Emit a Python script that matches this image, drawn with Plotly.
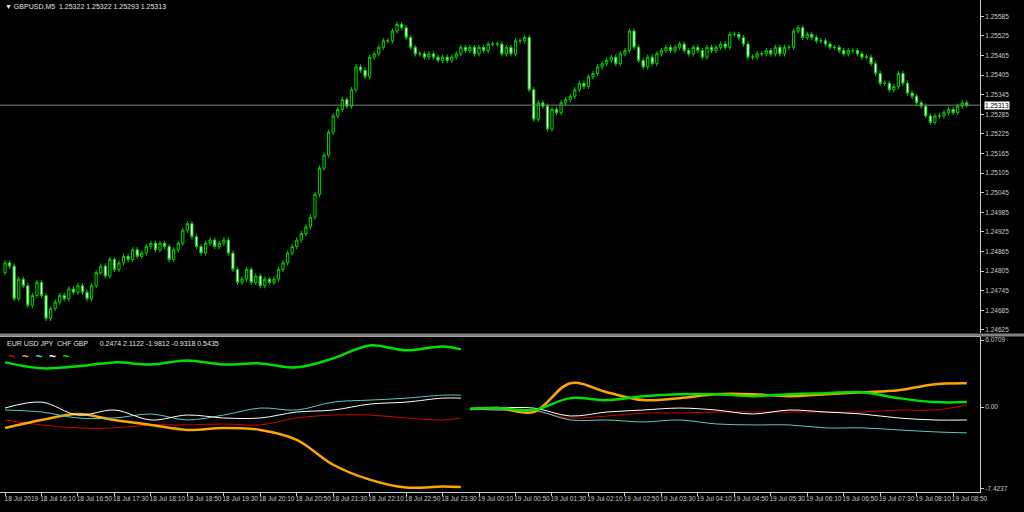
import plotly.graph_objects as go

# GBPUSD M5 closes, 18 Jul 15:30 .. 19 Jul 09:05 (one per bar)
closes = [
    1.2483, 1.2482, 1.2472, 1.2478, 1.2476, 1.2470, 1.2473, 1.2477,
    1.2473, 1.2466, 1.2469, 1.2471, 1.2473, 1.2472, 1.2475, 1.2474,
    1.2476, 1.2474, 1.2472, 1.2476, 1.2480, 1.2482, 1.2479, 1.2484,
    1.2481, 1.2483, 1.2485, 1.2484, 1.2487, 1.2485, 1.2486, 1.2488,
    1.2489, 1.2487, 1.2489, 1.2488, 1.2484, 1.2487, 1.2489, 1.2493,
    1.2495, 1.2491, 1.2488, 1.2486, 1.2489, 1.2490, 1.2488, 1.2489,
    1.2490, 1.2486, 1.2481, 1.2477, 1.2478, 1.2481, 1.2477, 1.2479,
    1.2476, 1.2478, 1.2477, 1.2478, 1.2481, 1.2483, 1.2486, 1.2488,
    1.2490, 1.2492, 1.2494, 1.2497, 1.2504, 1.2512, 1.2516, 1.2523,
    1.2528, 1.2530, 1.2533, 1.2531, 1.2536, 1.2543, 1.2542, 1.2540,
    1.2546, 1.2547, 1.2549, 1.2551, 1.2551, 1.2554, 1.2556, 1.2555,
    1.2552, 1.2549, 1.2547, 1.2547, 1.2546, 1.2547, 1.2546, 1.2545,
    1.2546, 1.2545, 1.2546, 1.2547, 1.2549, 1.2548, 1.2549, 1.2547,
    1.2549, 1.2548, 1.2550, 1.2550, 1.2550, 1.2547, 1.2549, 1.2547,
    1.2551, 1.2551, 1.2552, 1.2536, 1.2527, 1.2532, 1.2531, 1.2524,
    1.2530, 1.2529, 1.2532, 1.2533, 1.2534, 1.2536, 1.2538, 1.2537,
    1.2540, 1.2541, 1.2543, 1.2544, 1.2545, 1.2546, 1.2544, 1.2547,
    1.2548, 1.2554, 1.2549, 1.2545, 1.2543, 1.2546, 1.2544, 1.2547,
    1.2548, 1.2549, 1.2548, 1.2549, 1.2550, 1.2548, 1.2547, 1.2549,
    1.2548, 1.2546, 1.2549, 1.2548, 1.2549, 1.2550, 1.2549, 1.2553,
    1.2553, 1.2552, 1.2550, 1.2546, 1.2546, 1.2547, 1.2547, 1.2548,
    1.2547, 1.2549, 1.2547, 1.2549, 1.2549, 1.2554, 1.2555, 1.2552,
    1.2553, 1.2552, 1.2551, 1.2551, 1.2550, 1.2549, 1.2549, 1.2548,
    1.2547, 1.2548, 1.2548, 1.2547, 1.2546, 1.2546, 1.2544, 1.2541,
    1.2538, 1.2538, 1.2536, 1.2537, 1.2541, 1.2538, 1.2535, 1.2534,
    1.2532, 1.2531, 1.2528, 1.2526, 1.2528, 1.2528, 1.2529, 1.2530,
    1.2529, 1.2531, 1.2532, 1.25313,
]
first_open = 1.2480
wick = 0.00008

# currency strength indicator, sampled at these bar indices (None = gap)
ind_bars = [0, 8, 16, 24, 32, 40, 48, 56, 64, 72, 80, 88, 96, 100, 101,
            102, 108, 116, 124, 132, 140, 148, 156, 164, 172, 180, 188, 196, 204, 211]
eur = [-1.17, -1.62, -1.89, -1.89, -1.62, -1.62, -1.53, -1.62, -0.99, -0.72, -0.72, -0.99, -1.17, -0.99, None,
       -0.18, -0.27, -0.36, -0.99, -0.81, -0.54, -0.54, -0.45, -0.45, -0.45, -0.45, -0.45, -0.27, -0.27, 0.18]
usd = [-1.89, -1.17, -0.63, -1.17, -1.62, -2.07, -1.89, -2.07, -2.97, -5.23, -6.58, -7.3, -7.2, -7.25, None,
       -0.18, -0.09, -0.45, 2.16, 1.35, 0.63, 0.81, 1.17, 1.17, 0.99, 1.17, 1.35, 1.53, 2.07, 2.16]
jpy = [-0.27, -0.45, -0.99, -0.99, -0.63, -1.17, -0.72, -0.09, -0.27, 0.45, 0.63, 0.81, 1.08, 1.08, None,
       -0.18, -0.27, -0.27, -1.17, -1.17, -1.35, -1.17, -1.53, -1.62, -1.62, -1.89, -1.89, -2.07, -2.25, -2.34]
chf = [-0.09, 0.45, -0.72, -0.27, -1.17, -0.72, -0.99, -0.99, -0.45, -0.27, 0.27, 0.45, 0.81, 0.81, None,
       -0.18, -0.09, -0.09, -0.81, -0.45, -0.27, -0.09, -0.27, -0.63, -0.27, -0.45, -0.63, -0.99, -1.17, -1.17]
gbp = [4.05, 3.51, 3.69, 4.05, 3.87, 4.23, 3.87, 3.96, 3.60, 4.41, 5.59, 5.14, 5.50, 5.23, None,
       -0.18, -0.09, -0.27, 0.81, 0.63, 0.99, 1.17, 1.17, 0.99, 1.17, 1.26, 1.35, 0.81, 0.45, 0.45]

x_labels = ["18 Jul 2019", "18 Jul 16:10", "18 Jul 16:50", "18 Jul 17:30", "18 Jul 18:10",
            "18 Jul 18:50", "18 Jul 19:30", "18 Jul 20:10", "18 Jul 20:50", "18 Jul 21:30",
            "18 Jul 22:10", "18 Jul 22:50", "18 Jul 23:30", "19 Jul 00:10", "19 Jul 00:50",
            "19 Jul 01:30", "19 Jul 02:10", "19 Jul 02:50", "19 Jul 03:30", "19 Jul 04:10",
            "19 Jul 04:50", "19 Jul 05:30", "19 Jul 06:10", "19 Jul 06:50", "19 Jul 07:30",
            "19 Jul 08:10", "19 Jul 08:50"]
price_ticks = [1.24625 + 0.0006 * i for i in range(17)]
last_price = 1.25313

bars = list(range(len(closes)))
opens = [first_open] + closes[:-1]
highs = [max(o, c) + wick for o, c in zip(opens, closes)]
lows = [min(o, c) - wick for o, c in zip(opens, closes)]

fig = go.Figure()
fig.add_trace(go.Candlestick(
    x=bars, open=opens, high=highs, low=lows, close=closes,
    increasing=dict(line=dict(color="#00d000", width=1), fillcolor="#000000"),
    decreasing=dict(line=dict(color="#00d000", width=1), fillcolor="#ffffff"),
    whiskerwidth=0, showlegend=False, xaxis="x", yaxis="y",
))

series = [("EUR", eur, "#d00000", 1), ("USD", usd, "#ffa500", 2.5),
          ("JPY", jpy, "#60c8c8", 1), ("CHF", chf, "#ffffff", 1),
          ("GBP", gbp, "#00e000", 2.5)]
for name, vals, col, w in series:
    fig.add_trace(go.Scatter(
        x=ind_bars, y=vals, mode="lines", name=name,
        line=dict(color=col, width=w, shape="spline"),
        connectgaps=False, showlegend=False, xaxis="x", yaxis="y2",
    ))

# label offset so MT4-style labels start at their tick
label_shift = 3.6
grid = dict(showgrid=False, zeroline=False, color="#c8c8c8", automargin=False)
fig.update_layout(
    width=1024, height=512,
    paper_bgcolor="#000000", plot_bgcolor="#000000",
    margin=dict(l=0, r=44, t=0, b=20, autoexpand=False),
    font=dict(family="Liberation Sans Narrow, Liberation Sans", size=6.5, color="#c8c8c8"),
    xaxis=dict(range=[-1.1, 213.9], tickvals=[b + label_shift for b in range(0, 209, 8)],
               ticktext=x_labels, tickangle=0, ticks="",
               minor=dict(tick0=0, dtick=8, ticks="outside", ticklen=3, tickcolor="#c8c8c8"),
               rangeslider=dict(visible=False),
               showline=True, linecolor="#c8c8c8", mirror=True, anchor="y2", **grid),
    yaxis=dict(domain=[0.323, 1], range=[1.24615, 1.25635], side="right",
               tickvals=price_ticks, ticktext=[f"{v:.5f}" for v in price_ticks],
               ticks="outside", ticklen=3, tickcolor="#c8c8c8",
               showline=True, linecolor="#c8c8c8", mirror=True, **grid),
    yaxis2=dict(domain=[0, 0.315], range=[-7.7, 6.35], side="right",
                tickvals=[6.0709, 0, -7.4237], ticktext=["6.0709", "0.00", "-7.4237"],
                ticks="outside", ticklen=3, tickcolor="#c8c8c8",
                showline=True, linecolor="#c8c8c8", mirror=True, **grid),
    shapes=[
        dict(type="line", xref="x domain", x0=0, x1=1, yref="y", y0=last_price, y1=last_price,
             line=dict(color="#808080", width=1)),
        dict(type="rect", xref="paper", x0=0, x1=1.05, yref="paper", y0=0.316, y1=0.322,
             fillcolor="#808080", line=dict(width=0)),
    ],
    annotations=[
        dict(text="▼ GBPUSD,M5  1.25322 1.25322 1.25293 1.25313", xref="paper", yref="paper",
             x=0.003, y=0.998, xanchor="left", yanchor="top", showarrow=False,
             font=dict(size=7, color="#e0e0e0")),
        dict(text=f"{last_price:.5f}", xref="paper", yref="y", x=1.004, y=last_price,
             xanchor="left", showarrow=False, bgcolor="#ffffff", borderpad=0,
             font=dict(size=6.5, color="#000000")),
        dict(text="EUR USD JPY  CHF GBP      0.2474 2.1122 -1.9812 -0.9318 0.5435",
             xref="paper", yref="paper", x=0.005, y=0.312, xanchor="left", yanchor="top",
             showarrow=False, font=dict(size=7, color="#e0e0e0")),
        dict(text="<b><span style='color:#d00000'>~</span>  <span style='color:#ffa500'>~</span>  "
                  "<span style='color:#60c8c8'>~</span>  <span style='color:#ffffff'>~</span>  "
                  "<span style='color:#00e000'>~</span></b>",
             xref="paper", yref="paper", x=0.006, y=0.293, xanchor="left", yanchor="top",
             showarrow=False, font=dict(size=12)),
    ],
)

fig.write_html("out.html", config={"displayModeBar": False},
               post_script="document.body.style.margin='0';")
